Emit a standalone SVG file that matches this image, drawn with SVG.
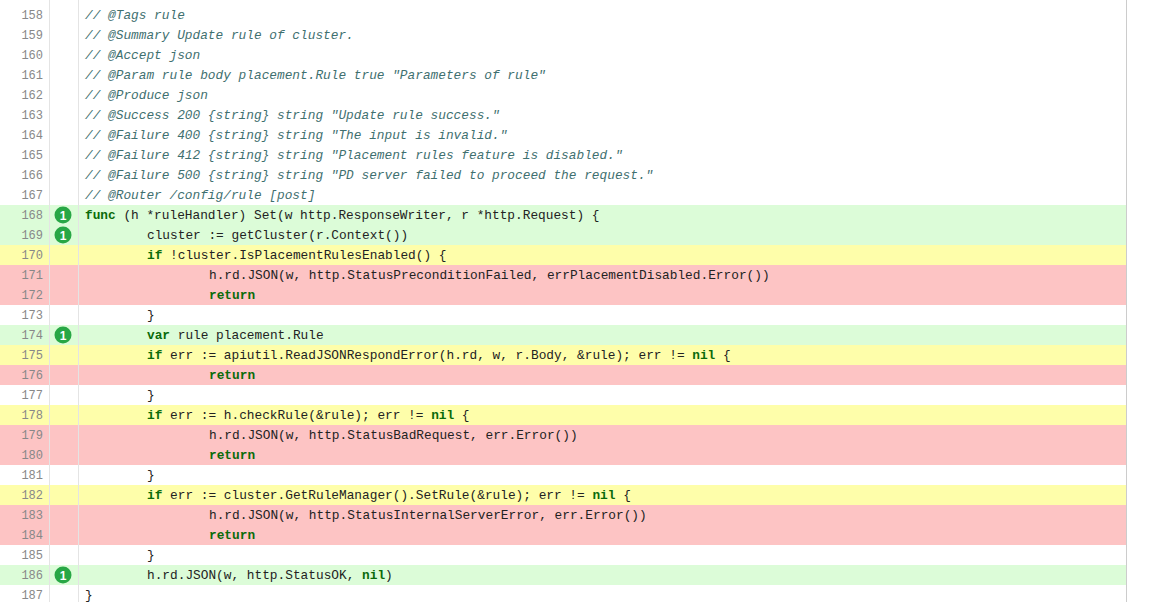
<svg xmlns="http://www.w3.org/2000/svg" width="1168" height="602" viewBox="0 0 1168 602">
<style>
.g{fill:#dcfcd8}.y{fill:#fefeaa}.r{fill:#fdc4c4}
.n{font-family:"Liberation Mono",monospace;font-size:12px;fill:#888;text-anchor:end}
.c{font-family:"Liberation Mono",monospace;font-size:12.8px;fill:#222;white-space:pre}
.cm{fill:#3f7070;font-style:italic}
.k{fill:#0a6b0a;font-weight:bold}
.b circle{fill:#28a745}.b text{font-family:"Liberation Sans",sans-serif;font-size:12px;font-weight:bold;fill:#fff;text-anchor:middle}
</style>
<rect width="1168" height="602" fill="#fff"/>
<g id="bands">
<rect class="g" x="0" y="205" width="1126" height="40"/>
<rect class="y" x="0" y="245" width="1126" height="20"/>
<rect class="r" x="0" y="265" width="1126" height="40"/>
<rect class="g" x="0" y="325" width="1126" height="20"/>
<rect class="y" x="0" y="345" width="1126" height="20"/>
<rect class="r" x="0" y="365" width="1126" height="20"/>
<rect class="y" x="0" y="405" width="1126" height="20"/>
<rect class="r" x="0" y="425" width="1126" height="40"/>
<rect class="y" x="0" y="485" width="1126" height="20"/>
<rect class="r" x="0" y="505" width="1126" height="40"/>
<rect class="g" x="0" y="565" width="1126" height="20"/>
</g>
<g id="dividers" stroke="#e4e4e4">
<line x1="49.5" y1="0" x2="49.5" y2="602"/>
<line x1="78.5" y1="0" x2="78.5" y2="602"/>
<line x1="1126.5" y1="0" x2="1126.5" y2="602" stroke="#ccc"/>
</g>
<g id="numbers" class="n">
<text x="43" y="19">158</text><text x="43" y="39">159</text><text x="43" y="59">160</text><text x="43" y="79">161</text><text x="43" y="99">162</text><text x="43" y="119">163</text><text x="43" y="139">164</text><text x="43" y="159">165</text><text x="43" y="179">166</text><text x="43" y="199">167</text><text x="43" y="219">168</text><text x="43" y="239">169</text><text x="43" y="259">170</text><text x="43" y="279">171</text><text x="43" y="299">172</text><text x="43" y="319">173</text><text x="43" y="339">174</text><text x="43" y="359">175</text><text x="43" y="379">176</text><text x="43" y="399">177</text><text x="43" y="419">178</text><text x="43" y="439">179</text><text x="43" y="459">180</text><text x="43" y="479">181</text><text x="43" y="499">182</text><text x="43" y="519">183</text><text x="43" y="539">184</text><text x="43" y="559">185</text><text x="43" y="579">186</text><text x="43" y="599">187</text>
</g>
<g id="badges" class="b">
<circle cx="63" cy="215" r="8.5"/><text x="63" y="219.5">1</text>
<circle cx="63" cy="235" r="8.5"/><text x="63" y="239.5">1</text>
<circle cx="63" cy="335" r="8.5"/><text x="63" y="339.5">1</text>
<circle cx="63" cy="575" r="8.5"/><text x="63" y="579.5">1</text>
</g>
<g id="code" class="c">
<text x="85" y="19" class="cm">// @Tags rule</text>
<text x="85" y="39" class="cm">// @Summary Update rule of cluster.</text>
<text x="85" y="59" class="cm">// @Accept json</text>
<text x="85" y="79" class="cm">// @Param rule body placement.Rule true "Parameters of rule"</text>
<text x="85" y="99" class="cm">// @Produce json</text>
<text x="85" y="119" class="cm">// @Success 200 {string} string "Update rule success."</text>
<text x="85" y="139" class="cm">// @Failure 400 {string} string "The input is invalid."</text>
<text x="85" y="159" class="cm">// @Failure 412 {string} string "Placement rules feature is disabled."</text>
<text x="85" y="179" class="cm">// @Failure 500 {string} string "PD server failed to proceed the request."</text>
<text x="85" y="199" class="cm">// @Router /config/rule [post]</text>
<text x="85" y="219"><tspan class="k">func</tspan> (h *ruleHandler) Set(w http.ResponseWriter, r *http.Request) {</text>
<text x="147" y="239">cluster := getCluster(r.Context())</text>
<text x="147" y="259"><tspan class="k">if</tspan> !cluster.IsPlacementRulesEnabled() {</text>
<text x="209" y="279">h.rd.JSON(w, http.StatusPreconditionFailed, errPlacementDisabled.Error())</text>
<text x="209" y="299" class="k">return</text>
<text x="147" y="319">}</text>
<text x="147" y="339"><tspan class="k">var</tspan> rule placement.Rule</text>
<text x="147" y="359"><tspan class="k">if</tspan> err := apiutil.ReadJSONRespondError(h.rd, w, r.Body, &amp;rule); err != <tspan class="k">nil</tspan> {</text>
<text x="209" y="379" class="k">return</text>
<text x="147" y="399">}</text>
<text x="147" y="419"><tspan class="k">if</tspan> err := h.checkRule(&amp;rule); err != <tspan class="k">nil</tspan> {</text>
<text x="209" y="439">h.rd.JSON(w, http.StatusBadRequest, err.Error())</text>
<text x="209" y="459" class="k">return</text>
<text x="147" y="479">}</text>
<text x="147" y="499"><tspan class="k">if</tspan> err := cluster.GetRuleManager().SetRule(&amp;rule); err != <tspan class="k">nil</tspan> {</text>
<text x="209" y="519">h.rd.JSON(w, http.StatusInternalServerError, err.Error())</text>
<text x="209" y="539" class="k">return</text>
<text x="147" y="559">}</text>
<text x="147" y="579">h.rd.JSON(w, http.StatusOK, <tspan class="k">nil</tspan>)</text>
<text x="85" y="599">}</text>
</g>
</svg>
